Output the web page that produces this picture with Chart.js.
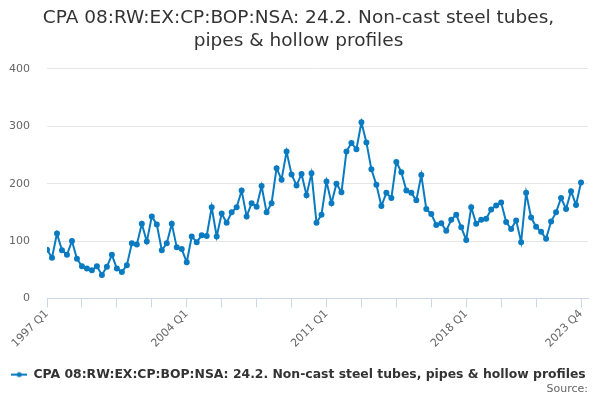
<!DOCTYPE html>
<html>
<head>
<meta charset="utf-8">
<script src="https://cdn.jsdelivr.net/npm/chart.js@4.4.1/dist/chart.umd.min.js"></script>
<style>
  html, body { margin: 0; padding: 0; background: #fff; }
  #wrap { width: 600px; height: 400px; }
</style>
</head>
<body>
<div id="wrap"><canvas id="grafica"></canvas></div>
<script>
// one label per quarter, 1997 Q1 .. 2023 Q4
const quarters = [];
for (let y = 1997; y <= 2023; y++) {
  for (let q = 1; q <= 4; q++) quarters.push(y + ' Q' + q);
}

// values, one row per year
const values = [
  85, 71, 113, 84,
  76, 100, 69, 56,
  52, 49, 56, 41,
  55, 76, 52, 46,
  58, 96, 94, 130,
  99, 143, 129, 84,
  96, 130, 89, 86,
  63, 108, 98, 110,
  109, 159, 108, 148,
  132, 150, 159, 188,
  143, 166, 160, 196,
  150, 166, 227, 207,
  256, 216, 197, 217,
  180, 218, 132, 146,
  204, 166, 200, 185,
  256, 271, 260, 307,
  272, 225, 198, 161,
  184, 175, 238, 220,
  188, 184, 171, 215,
  156, 147, 128, 131,
  118, 137, 146, 124,
  102, 159, 130, 137,
  139, 155, 162, 167,
  133, 121, 136, 98,
  184, 141, 125, 116,
  104, 134, 150, 175,
  156, 187, 163, 202
];

// tick marks on the x axis, and the ones that carry a label
const tickPositions = [0, 7, 14, 21, 28, 35, 42, 49, 56, 63, 70, 77, 84, 91, 98, 107];
const tickLabels = ['1997 Q1', '2004 Q1', '2011 Q1', '2018 Q1', '2023 Q4'];
const yTicks = [0, 100, 200, 300, 400];

const colour = '#0b7bc1';
const seriesName = 'CPA 08:RW:EX:CP:BOP:NSA: 24.2. Non-cast steel tubes, pipes & hollow profiles';

// little line-with-dot symbol for the legend
const symbol = document.createElement('canvas');
symbol.width = 16;
symbol.height = 8;
const sctx = symbol.getContext('2d');
sctx.strokeStyle = colour;
sctx.lineWidth = 2;
sctx.beginPath();
sctx.moveTo(0, 4);
sctx.lineTo(16, 4);
sctx.stroke();
sctx.fillStyle = colour;
sctx.beginPath();
sctx.arc(8, 4, 2.5, 0, Math.PI * 2);
sctx.fill();

Chart.defaults.font.family = '"DejaVu Sans", sans-serif';

const ctx = document.getElementById('grafica').getContext('2d');
const grafica = new Chart(ctx, {
  type: 'line',
  data: {
    datasets: [{
      label: seriesName,
      data: values.map((v, i) => ({ x: i, y: v })),
      borderColor: colour,
      backgroundColor: colour,
      borderWidth: 2,
      pointRadius: 2,
      pointHoverRadius: 3,
      pointStyle: 'circle',
      tension: 0
    }]
  },
  options: {
    responsive: true,
    maintainAspectRatio: false,
    animation: false,
    layout: { padding: { left: 9, right: 12, top: 0, bottom: 0 } },
    plugins: {
      title: {
        display: true,
        text: ['CPA 08:RW:EX:CP:BOP:NSA: 24.2. Non-cast steel tubes,', 'pipes & hollow profiles'],
        color: '#333333',
        font: { size: 18.5, weight: 'normal', lineHeight: 1.27 },
        padding: { top: 6, bottom: 16 }
      },
      subtitle: {
        display: true,
        position: 'bottom',
        align: 'end',
        text: 'Source:',
        color: '#666666',
        font: { size: 11 },
        padding: { top: -8, bottom: 4 }
      },
      legend: {
        position: 'bottom',
        labels: {
          usePointStyle: true,
          pointStyle: symbol,
          pointStyleWidth: 16,
          color: '#333333',
          font: { size: 12.4, weight: 'bold' },
          padding: 1
        }
      },
      tooltip: { enabled: false }
    },
    scales: {
      x: {
        type: 'linear',
        min: 0,
        max: 108.4,
        afterBuildTicks: (scale) => {
          scale.ticks = tickPositions.map(v => ({ value: v }));
        },
        afterFit: (scale) => {
          scale.paddingLeft = 0;
          scale.paddingRight = 0;
          scale.height = 69;
        },
        grid: {
          drawOnChartArea: false,
          drawTicks: true,
          tickLength: 9,
          color: '#ccd6eb'
        },
        border: { display: true, color: '#ccd6eb' },
        ticks: {
          autoSkip: false,
          maxRotation: 45,
          minRotation: 45,
          color: '#666666',
          font: { size: 11 },
          padding: 0,
          callback: (value) => {
            const lab = quarters[value];
            return tickLabels.includes(lab) ? lab : '';
          }
        }
      },
      y: {
        min: 0,
        max: 400,
        afterBuildTicks: (scale) => {
          scale.ticks = yTicks.map(v => ({ value: v }));
        },
        afterFit: (scale) => {
          scale.width = 38;
        },
        grid: { color: '#e6e6e6', drawTicks: false },
        border: { display: false },
        ticks: {
          color: '#666666',
          font: { size: 11 },
          padding: 17
        }
      }
    }
  }
});
</script>
</body>
</html>
